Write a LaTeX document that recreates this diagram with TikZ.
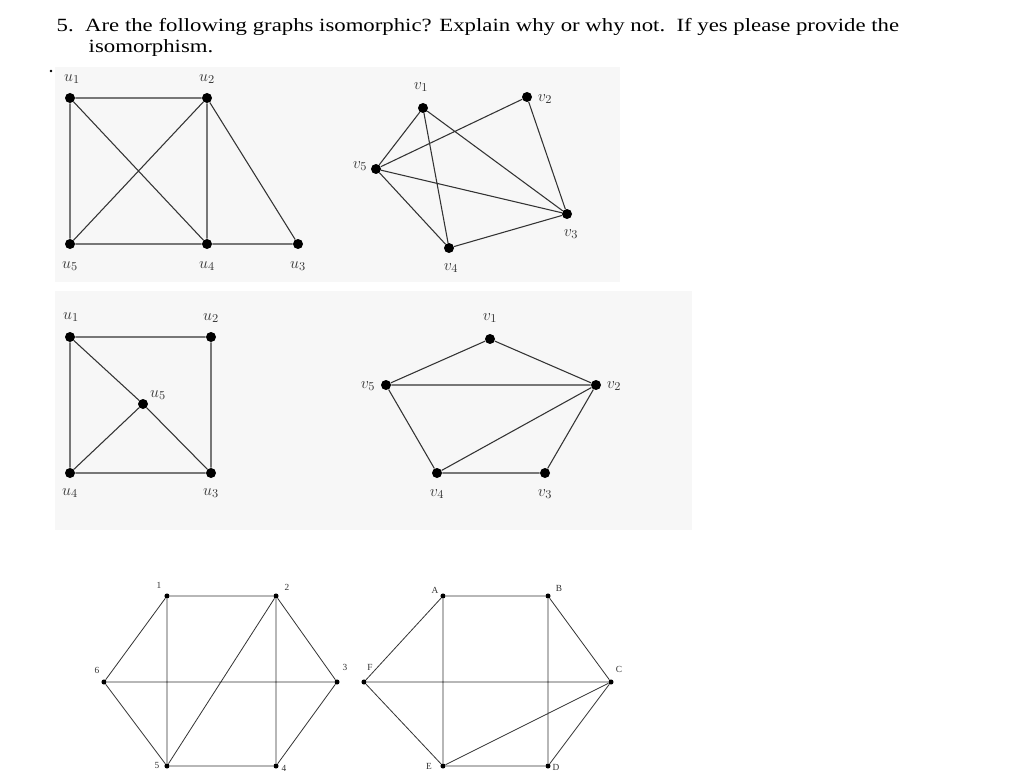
\documentclass[tikz,border=0pt]{standalone}
\usepackage{fontspec}
\setmainfont{Liberation Serif}
\begin{document}
\begin{tikzpicture}[x=0.75pt,y=-0.75pt,
  big/.style={circle,fill=black,inner sep=0pt,minimum size=7.5pt},
  sm/.style={circle,fill=black,inner sep=0pt,minimum size=3.8pt},
  ed/.style={draw=black!80,line width=0.8pt},
  lb/.style={font=\fontsize{13}{14}\selectfont,text=black!80},
  slb/.style={font=\fontsize{7}{8}\selectfont,text=black!80}]
\useasboundingbox (0,0) rectangle (1024,781);
\fill[white] (0,0) rectangle (1024,781);
\fill[black!3] (55,67) rectangle (620,282);
\fill[black!3] (55,291) rectangle (692,530);
\node[anchor=base west,font=\fontsize{14}{16}\selectfont] (t1) at (52,32) {\scalebox{1.22}[1]{5.\ \ Are the following graphs isomorphic? Explain why or why not.\ \ If yes please provide the}};
\node[anchor=base west,font=\fontsize{14}{16}\selectfont] (t2) at (84,53) {\scalebox{1.22}[1]{isomorphism.}};
\fill (51,71) circle (1pt);
% top left
\node[big] (a1) at (70,98) {}; \node[big] (a2) at (207,98) {};
\node[big] (a5) at (70,244) {}; \node[big] (a4) at (207,244) {}; \node[big] (a3) at (298,244) {};
\draw[ed] (a1)--(a2) (a1)--(a5) (a1)--(a4) (a2)--(a5) (a2)--(a4) (a2)--(a3) (a5)--(a4) (a4)--(a3);
\node[lb] (la1) at (72,79) {$u_1$}; \node[lb] (la2) at (207,79) {$u_2$};
\node[lb] (la5) at (70,266) {$u_5$}; \node[lb] (la4) at (207,266) {$u_4$}; \node[lb] (la3) at (298,266) {$u_3$};
% top right
\node[big] (b1) at (423,108) {}; \node[big] (b2) at (527,97) {};
\node[big] (b5) at (376,169) {}; \node[big] (b3) at (567,214) {}; \node[big] (b4) at (449,248) {};
\draw[ed] (b1)--(b5) (b1)--(b4) (b1)--(b3) (b2)--(b5) (b2)--(b3) (b5)--(b3) (b5)--(b4) (b4)--(b3);
\node[lb] (lb1) at (421,87) {$v_1$}; \node[lb] (lb2) at (545,99) {$v_2$};
\node[lb] (lb5) at (360,166) {$v_5$}; \node[lb] (lb3) at (571,234) {$v_3$}; \node[lb] (lb4) at (451,268) {$v_4$};
% middle left
\node[big] (c1) at (70,337) {}; \node[big] (c2) at (211,337) {};
\node[big] (c5) at (143,404) {}; \node[big] (c4) at (70,473) {}; \node[big] (c3) at (211,473) {};
\draw[ed] (c1)--(c2) (c1)--(c4) (c2)--(c3) (c1)--(c5) (c5)--(c3) (c5)--(c4) (c4)--(c3);
\node[lb] (lc1) at (71,317) {$u_1$}; \node[lb] (lc2) at (211,318) {$u_2$};
\node[lb] (lc5) at (158,395) {$u_5$}; \node[lb] (lc4) at (70,493) {$u_4$}; \node[lb] (lc3) at (211,493) {$u_3$};
% middle right
\node[big] (d1) at (490,339) {}; \node[big] (d5) at (386,385) {}; \node[big] (d2) at (596,385) {};
\node[big] (d4) at (437,473) {}; \node[big] (d3) at (545,473) {};
\draw[ed] (d1)--(d5) (d1)--(d2) (d5)--(d2) (d5)--(d4) (d4)--(d2) (d4)--(d3) (d3)--(d2);
\node[lb] (ld1) at (490,318) {$v_1$}; \node[lb] (ld5) at (368,386) {$v_5$}; \node[lb] (ld2) at (614,386) {$v_2$};
\node[lb] (ld4) at (437,494) {$v_4$}; \node[lb] (ld3) at (545,494) {$v_3$};
% bottom left
\node[sm] (e1) at (167,596) {}; \node[sm] (e2) at (276,596) {};
\node[sm] (e6) at (104,682) {}; \node[sm] (e3) at (337,682) {};
\node[sm] (e5) at (167,766) {}; \node[sm] (e4) at (276,766) {};
\draw[ed,line width=0.6pt] (e1)--(e2) (e1)--(e6) (e1)--(e5) (e2)--(e5) (e2)--(e4) (e2)--(e3) (e6)--(e3) (e6)--(e5) (e3)--(e4) (e5)--(e4);
\node[slb] (le1) at (159,585) {1}; \node[slb] (le2) at (287,587) {2};
\node[slb] (le6) at (97,670) {6}; \node[slb] (le3) at (345,667) {3};
\node[slb] (le5) at (157,765) {5}; \node[slb] (le4) at (284,768) {4};
% bottom right
\node[sm] (fA) at (443,596) {}; \node[sm] (fB) at (548,596) {};
\node[sm] (fF) at (364,682) {}; \node[sm] (fC) at (611,682) {};
\node[sm] (fE) at (443,766) {}; \node[sm] (fD) at (548,766) {};
\draw[ed,line width=0.6pt] (fA)--(fB) (fA)--(fF) (fA)--(fE) (fB)--(fD) (fB)--(fC) (fF)--(fC) (fF)--(fE) (fC)--(fE) (fC)--(fD) (fE)--(fD);
\node[slb] (lA) at (435,590) {A}; \node[slb] (lB) at (559,588) {B};
\node[slb] (lF) at (370,667) {F}; \node[slb] (lC) at (619,669) {C};
\node[slb] (lE) at (429,766) {E}; \node[slb] (lD) at (556,767) {D};
\end{tikzpicture}
\end{document}
